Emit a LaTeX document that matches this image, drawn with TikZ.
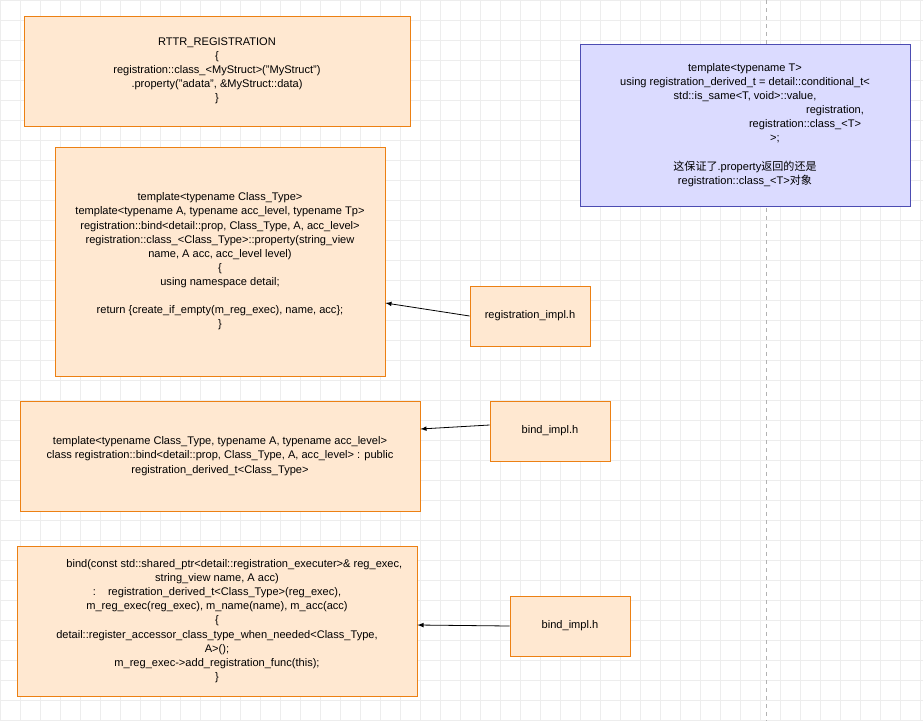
\documentclass[tikz,border=0pt]{standalone}
\usepackage{fontspec}
\setmainfont{Liberation Sans}
\newfontfamily\cjk{Noto Sans CJK SC}
\begin{document}
\begin{tikzpicture}[x=0.75pt, y=-0.75pt,
  every node/.style={font=\fontsize{8.3}{10.6}\selectfont},
  obox/.style={draw=orange!70!brown, fill=orange!18, line width=0.6pt, align=center, inner sep=0pt},
  bbox/.style={draw=blue!40!gray, fill=blue!14, line width=0.6pt, align=center, inner sep=0pt},
  link/.style={-latex, line width=0.6pt},
]
\useasboundingbox (0,0) rectangle (923,721);
% grid background
\foreach \x in {0,20,...,920} \draw[black!7, line width=0.4pt] (\x,0) -- (\x,721);
\foreach \y in {0,20,...,720} \draw[black!7, line width=0.4pt] (0,\y) -- (923,\y);
\draw[black!30, dash pattern=on 3pt off 3pt, line width=0.5pt] (766,0) -- (766,721);

% boxes
\node[obox, minimum width=386pt*0.75/0.75, minimum width=289.5pt, minimum height=82.5pt] (reg) at (217,71)
  {RTTR\_REGISTRATION\\ \{\\ registration::class\_<MyStruct>("MyStruct")\\ .property("adata", \&MyStruct::data)\\ \}};
\node[obox, minimum width=247.5pt, minimum height=171.75pt] (prop) at (220,261.5)
  {template<typename Class\_Type>\\
   template<typename A, typename acc\_level, typename Tp>\\
   registration::bind<detail::prop, Class\_Type, A, acc\_level>\\
   registration::class\_<Class\_Type>::property(string\_view\\
   name, A acc, acc\_level level)\\ \{\\ using namespace detail;\\[10.6pt]
   return \{create\_if\_empty(m\_reg\_exec), name, acc\};\\ \}};
\node[obox, minimum width=300pt, minimum height=82.5pt] (bind) at (220,456)
  {template<typename Class\_Type, typename A, typename acc\_level>\\
   class registration::bind<detail::prop, Class\_Type, A, acc\_level> : public\\
   registration\_derived\_t<Class\_Type>};
\node[obox, minimum width=300pt, minimum height=112.5pt] (ctor) at (217,621)
  {\hspace*{26pt}bind(const std::shared\_ptr<detail::registration\_executer>\& reg\_exec,\\
   string\_view name, A acc)\\
   :\hspace{6pt} registration\_derived\_t<Class\_Type>(reg\_exec),\\
   m\_reg\_exec(reg\_exec), m\_name(name), m\_acc(acc)\\ \{\\
   detail::register\_accessor\_class\_type\_when\_needed<Class\_Type,\\
   A>();\\ m\_reg\_exec->add\_registration\_func(this);\\ \}};
\node[bbox, minimum width=247.5pt, minimum height=121.5pt] (alias) at (745,125)
  {template<typename T>\\
   using registration\_derived\_t = detail::conditional\_t<\\
   std::is\_same<T, void>::value,\\
   \hspace*{135pt}registration,\\
   \hspace*{90pt}registration::class\_<T>\\
   \hspace*{45pt}>;\\[10.6pt]
   {\cjk 这保证了}.property{\cjk 返回的还是}\\
   registration::class\_<T>{\cjk 对象}};
\node[obox, minimum width=90pt, minimum height=45pt] (h1) at (530,316) {registration\_impl.h};
\node[obox, minimum width=90pt, minimum height=45pt] (h2) at (550,431) {bind\_impl.h};
\node[obox, minimum width=90pt, minimum height=45pt] (h3) at (570,626) {bind\_impl.h};

% connectors
\draw[link] (h1.west) -- (prop.east |- 0,303);
\draw[link] (h2.west |- 0,425) -- (bind.east |- 0,429);
\draw[link] (h3.west) -- (ctor.east |- 0,625);
\end{tikzpicture}
\end{document}
